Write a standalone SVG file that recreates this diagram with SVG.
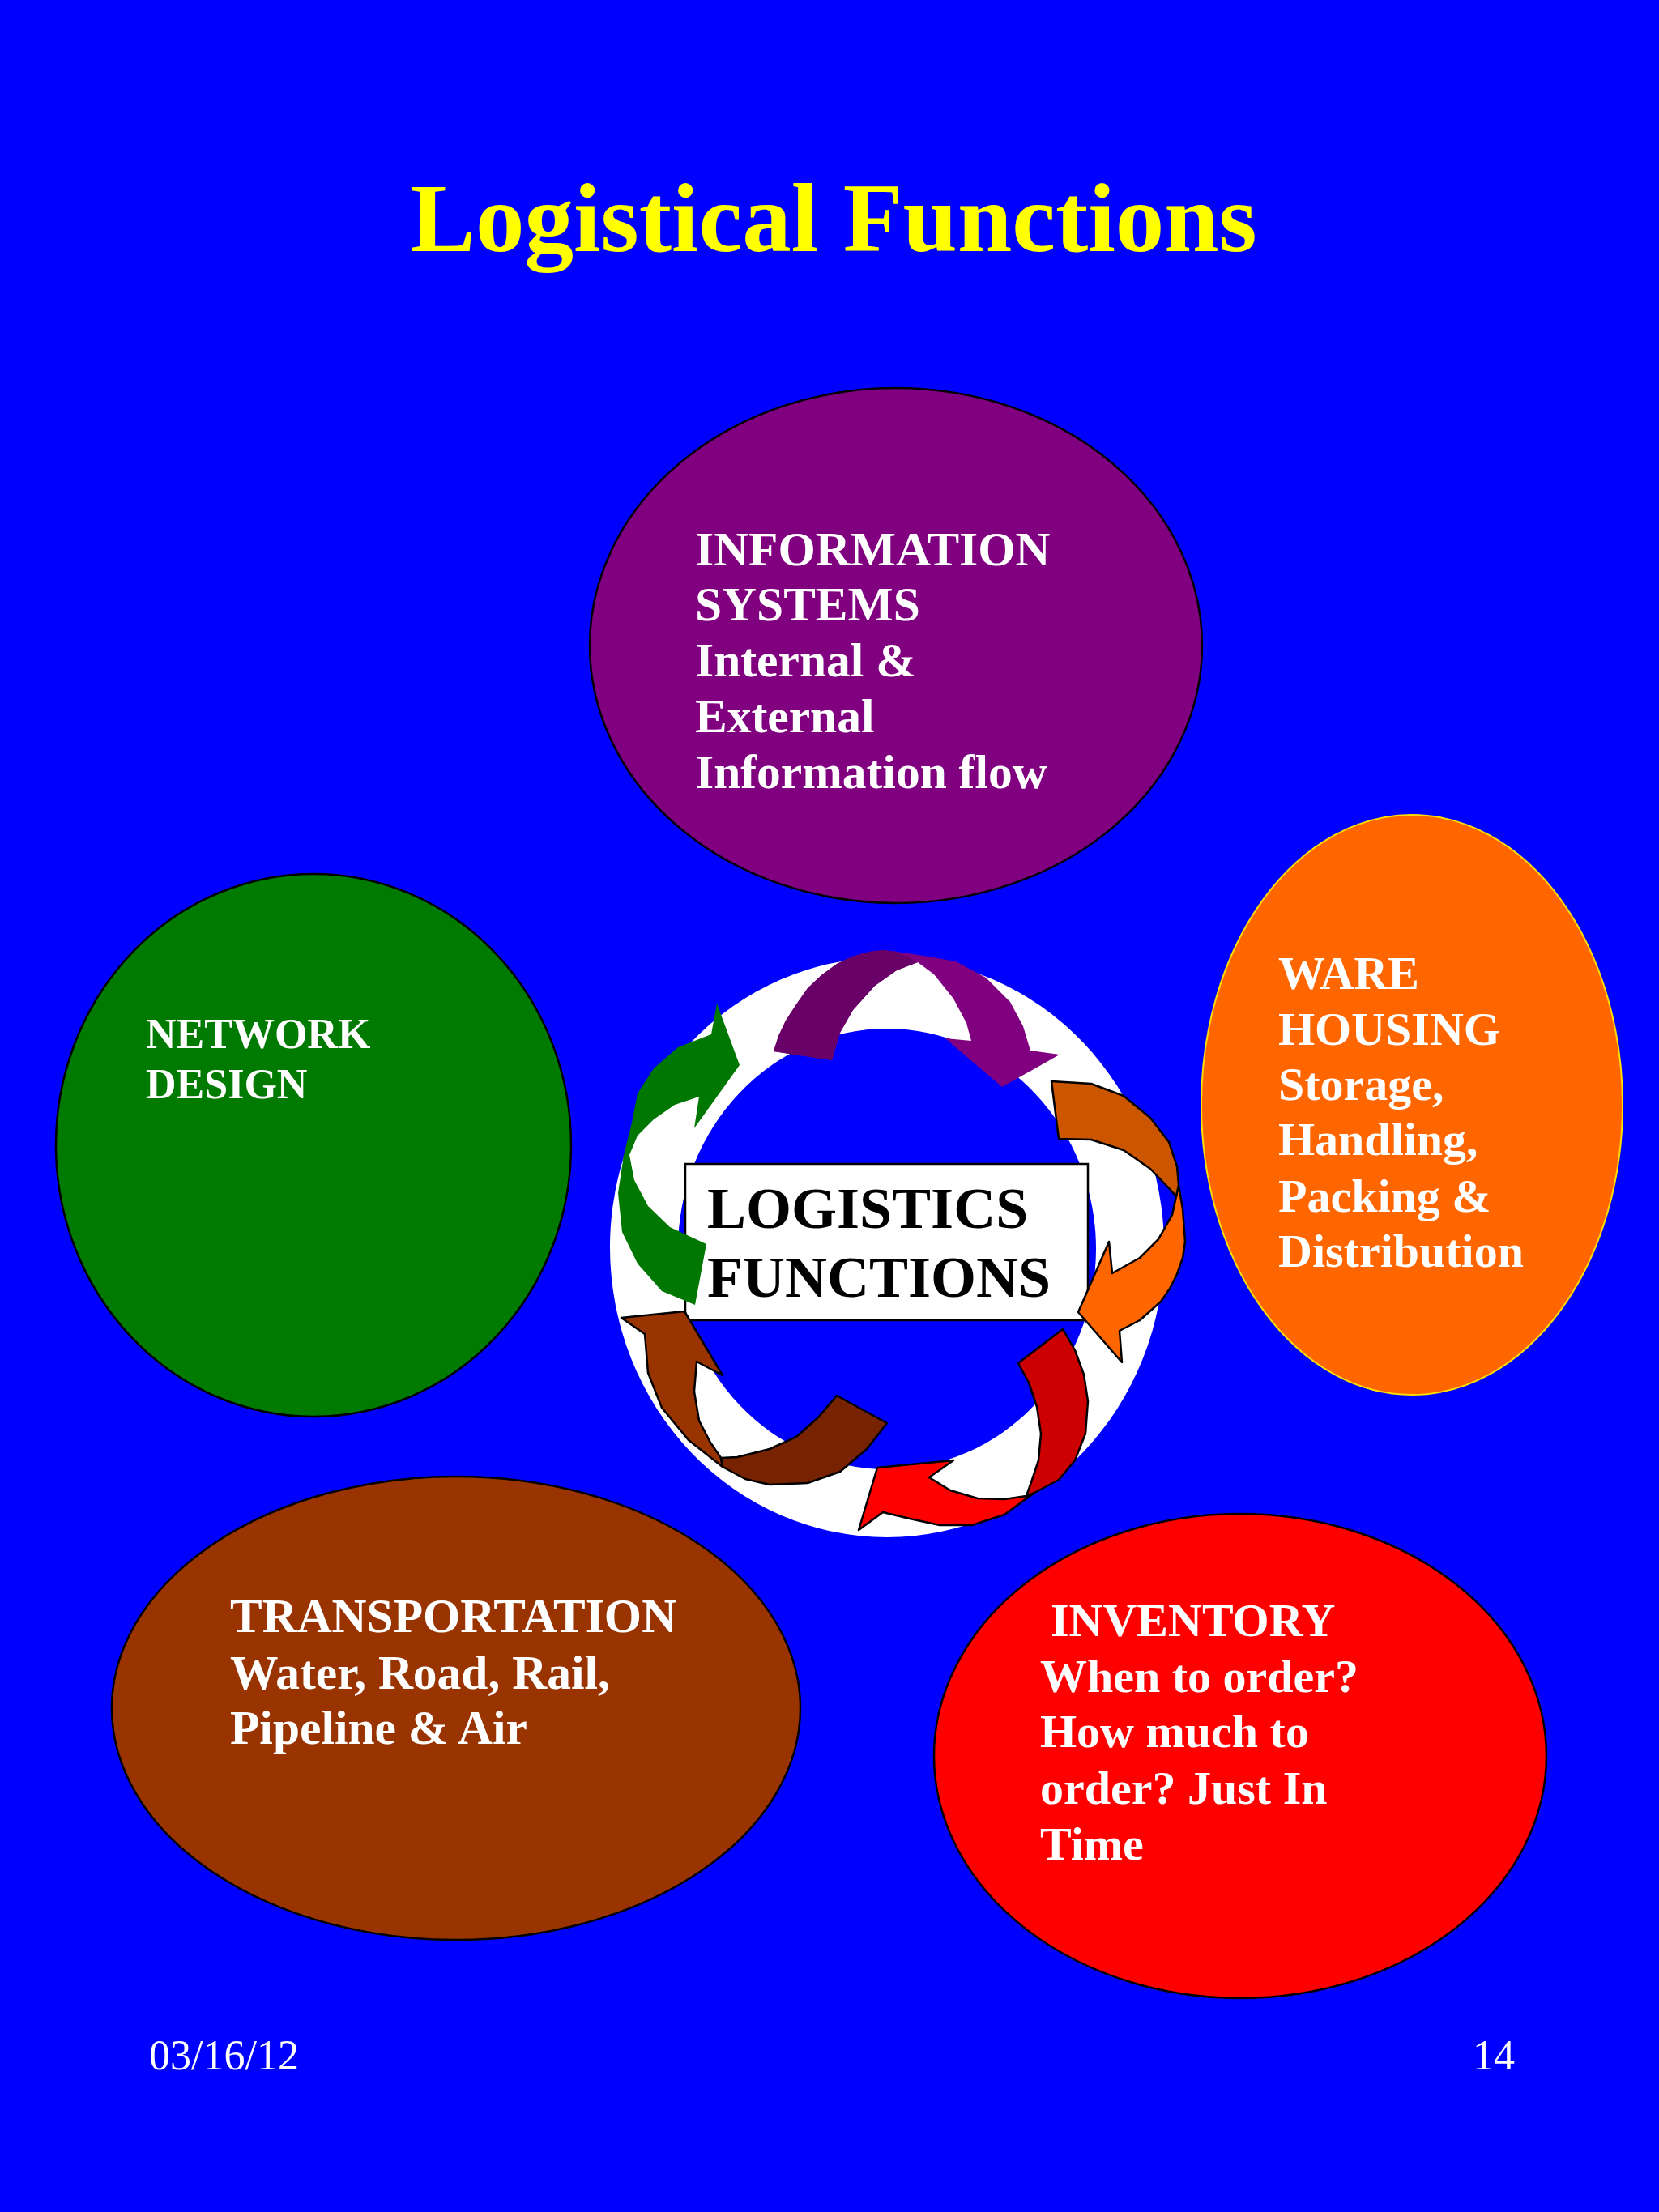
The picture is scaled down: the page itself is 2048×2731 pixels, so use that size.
<svg xmlns="http://www.w3.org/2000/svg" width="2048" height="2731" viewBox="0 0 2048 2731">
<style>
.t{font-family:"Liberation Serif","Times New Roman",serif;font-weight:bold;fill:#ffffff;font-size:58px}
.ell{stroke:#000000;stroke-width:2.5}
.arr{stroke:#000000;stroke-width:2.5;stroke-linejoin:round}
.foot{font-family:"Liberation Serif","Times New Roman",serif;fill:#ffffff;font-size:52px}
</style>
<rect x="0" y="0" width="2048" height="2731" fill="#0000ff"/>
<text x="1029" y="310" text-anchor="middle" style="font-family:'Liberation Serif','Times New Roman',serif;font-weight:bold;font-size:121px;fill:#ffff00">Logistical Functions</text>

<g id="node-information-systems">
<ellipse class="ell" cx="1106" cy="797" rx="378" ry="318" fill="#800080"/>
<text class="t" x="858" y="698" style="font-size:59.5px">INFORMATION</text>
<text class="t" x="858" y="766" style="font-size:59.5px">SYSTEMS</text>
<text class="t" x="858" y="835" style="font-size:59.5px">Internal &amp;</text>
<text class="t" x="858" y="904" style="font-size:59.5px">External</text>
<text class="t" x="858" y="973" style="font-size:59.5px">Information flow</text>
</g>

<g id="node-warehousing">
<ellipse cx="1743" cy="1364" rx="260" ry="358" fill="#ff6600" stroke="#ffdd00" stroke-width="2"/>
<text class="t" x="1578" y="1221">WARE</text>
<text class="t" x="1578" y="1290">HOUSING</text>
<text class="t" x="1578" y="1358">Storage,</text>
<text class="t" x="1578" y="1426">Handling,</text>
<text class="t" x="1578" y="1496">Packing &amp;</text>
<text class="t" x="1578" y="1564">Distribution</text>
</g>

<g id="node-network-design">
<ellipse class="ell" cx="387" cy="1414" rx="318" ry="335" fill="#007a00"/>
<text class="t" x="180" y="1294" style="font-size:52px">NETWORK</text>
<text class="t" x="180" y="1356" style="font-size:52px">DESIGN</text>
</g>

<g id="node-transportation">
<ellipse class="ell" cx="563" cy="2109" rx="425" ry="286" fill="#993300"/>
<text class="t" x="284" y="2015" style="font-size:59.5px">TRANSPORTATION</text>
<text class="t" x="284" y="2085" style="font-size:59.5px">Water, Road, Rail,</text>
<text class="t" x="284" y="2153" style="font-size:59.5px">Pipeline &amp; Air</text>
</g>

<g id="node-inventory">
<ellipse class="ell" cx="1531" cy="2168" rx="378" ry="299" fill="#ff0000"/>
<text class="t" x="1297" y="2020">INVENTORY</text>
<text class="t" x="1284" y="2089">When to order?</text>
<text class="t" x="1284" y="2157">How much to</text>
<text class="t" x="1284" y="2227">order? Just In</text>
<text class="t" x="1284" y="2296">Time</text>
</g>

<g id="node-logistics-functions">
<ellipse cx="1095" cy="1540" rx="342" ry="358" fill="#ffffff"/>
<ellipse cx="1095" cy="1542" rx="258" ry="272" fill="#0000ff"/>
<rect x="846" y="1437" width="497" height="193" fill="#ffffff" stroke="#000000" stroke-width="2.5"/>
<text x="873" y="1516" style="font-family:'Liberation Serif','Times New Roman',serif;font-weight:bold;font-size:72px;fill:#000000">LOGISTICS</text>
<text x="873" y="1601" style="font-family:'Liberation Serif','Times New Roman',serif;font-weight:bold;font-size:72px;fill:#000000">FUNCTIONS</text>
</g>

<g id="connectors">
<g id="arrow-purple">
<polygon fill="#800080" points="955,1298 961,1279 970,1260 983,1240 997,1220 1014,1204 1033,1190 1052,1181 1073,1175 1090,1173 1107,1175 1140,1180 1180,1187 1217,1207 1247,1237 1263,1267 1272,1297 1308,1302 1237,1342 1167,1282 1199,1285 1193,1263 1177,1233 1153,1203 1133,1188 1107,1198 1080,1217 1053,1247 1037,1275 1027,1309"/>
<polygon fill="#680068" points="955,1298 961,1279 970,1260 983,1240 997,1220 1014,1204 1033,1190 1052,1181 1073,1175 1090,1173 1107,1175 1133,1188 1107,1198 1080,1217 1053,1247 1037,1275 1027,1309"/>
</g>
<g id="arrow-orange">
<polygon class="arr" fill="#ff6600" points="1455,1463 1460,1493 1463,1533 1460,1553 1453,1573 1444,1591 1433,1607 1407,1630 1382,1643 1385,1682 1331,1620 1369,1533 1373,1572 1407,1553 1430,1530 1447,1500 1452,1477"/>
<polygon class="arr" fill="#cc5500" points="1298,1335 1347,1338 1387,1353 1420,1380 1443,1410 1453,1440 1455,1463 1452,1477 1443,1467 1420,1443 1387,1420 1347,1407 1307,1406"/>
</g>
<g id="arrow-red">
<polygon class="arr" fill="#ff0000" points="1277,1843 1240,1870 1200,1883 1160,1883 1123,1875 1090,1867 1060,1889 1083,1812 1177,1803 1147,1824 1173,1840 1207,1850 1240,1851 1267,1847"/>
<polygon class="arr" fill="#cc0000" points="1312,1641 1327,1667 1338,1697 1343,1730 1340,1770 1327,1803 1307,1827 1277,1843 1267,1847 1273,1830 1282,1803 1285,1770 1280,1737 1270,1707 1257,1683"/>
</g>
<g id="arrow-brown">
<polygon class="arr" fill="#993300" points="892,1811 850,1778 817,1738 800,1695 796,1647 767,1627 845,1619 892,1698 860,1681 857,1718 863,1754 877,1781 890,1800"/>
<polygon class="arr" fill="#772200" points="1033,1723 1095,1757 1070,1789 1037,1817 997,1831 950,1833 920,1826 892,1811 890,1800 910,1799 950,1789 983,1774 1010,1750"/>
</g>
<g id="arrow-green">
<polygon fill="#007700" points="858,1611 817,1594 787,1560 768,1521 763,1473 770,1426 780,1386 787,1350 807,1319 837,1293 878,1277 885,1239 913,1315 857,1393 863,1354 833,1364 807,1382 787,1402 777,1426 783,1457 800,1489 827,1515 872,1536"/>
</g>
</g>

<text class="foot" x="184" y="2555">03/16/12</text>
<text class="foot" x="1818" y="2555">14</text>
</svg>
